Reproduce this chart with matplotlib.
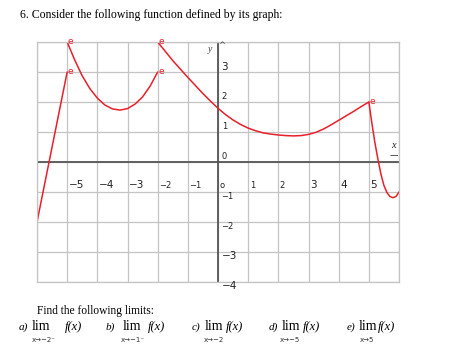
import matplotlib.pyplot as plt

# pieces of the graph
seg1_x = [-6.0, -5.0]
seg1_y = [-2.0, 3.0]

seg2_x = [-5.0, -4.75, -4.5, -4.25, -4.0, -3.75, -3.5, -3.25, -3.0, -2.75, -2.5, -2.25, -2.0]
seg2_y = [4.0, 3.40, 2.87, 2.45, 2.13, 1.90, 1.77, 1.73, 1.78, 1.93, 2.17, 2.53, 3.0]

seg3_x = [-2.0, -1.75, -1.5, -1.25, -1.0, -0.75, -0.5, -0.25, 0.0, 0.25, 0.5, 0.75,
          1.0, 1.25, 1.5, 1.75, 2.0, 2.25, 2.5, 2.75, 3.0, 3.25, 3.5, 3.75,
          4.0, 4.25, 4.5, 4.75, 5.0]
seg3_y = [4.0, 3.69, 3.38, 3.10, 2.82, 2.55, 2.28, 2.03, 1.79, 1.58, 1.40, 1.25,
          1.13, 1.04, 0.97, 0.93, 0.90, 0.88, 0.87, 0.88, 0.92, 0.99, 1.10, 1.24,
          1.39, 1.54, 1.69, 1.85, 2.0]

seg4_x = [5.0, 5.1, 5.2, 5.3, 5.4, 5.5, 5.6, 5.7, 5.8, 5.9, 6.0]
seg4_y = [2.0, 1.3, 0.65, 0.1, -0.4, -0.78, -1.02, -1.15, -1.19, -1.15, -1.0]

open_x = [-5, -5, -2, -2, 5]
open_y = [4, 3, 4, 3, 2]

xtick_vals = [-5, -4, -3, -2, -1, 0, 1, 2, 3, 4, 5]
xtick_labels = ["\u22125", "\u22124", "\u22123", "\u22122", "\u22121", "o", "1", "2", "3", "4", "5"]
ytick_vals = [3, 2, 1, 0, -1, -2, -3, -4]
ytick_labels = ["3", "2", "1", "0", "\u22121", "\u22122", "\u22123", "\u22124"]

limit_letters = ["a)", "b)", "c)", "d)", "e)"]
limit_subs = ["x\u2192\u22122\u207b", "x\u2192\u22121\u207b", "x\u2192\u22122", "x\u2192\u22125", "x\u21925"]

W, H = 474, 353
fig = plt.figure(figsize=(W / 100, H / 100), dpi=100)
fig.patch.set_facecolor("white")


def fx(px):
    return px / W


def fy(py):
    return 1 - py / H


ax = fig.add_axes([fx(37), fy(282), fx(399) - fx(37), fy(42) - fy(282)])
ax.set_xlim(-6, 6)
ax.set_ylim(-4, 4)
ax.set_xticks(range(-6, 7))
ax.set_yticks(range(-4, 5))
ax.grid(True, color="#c4c4c4", lw=0.9)
ax.tick_params(length=0, labelbottom=False, labelleft=False)
for s in ax.spines.values():
    s.set_color("#c4c4c4")
    s.set_linewidth(0.9)
ax.axhline(0, color="#555555", lw=1.3)
ax.axvline(0, color="#555555", lw=1.3)

red = "#e8202a"
for xs, ys in [(seg1_x, seg1_y), (seg2_x, seg2_y), (seg3_x, seg3_y), (seg4_x, seg4_y)]:
    ax.plot(xs, ys, color=red, lw=1.1, solid_capstyle="round", solid_joinstyle="round")
for x, y in zip(open_x, open_y):
    ax.text(x + 0.02, y, "e", color=red, fontsize=6.5, ha="left", va="center",
            family="DejaVu Sans")

# tick labels, placed like in the scan
for v, lab in zip(xtick_vals, xtick_labels):
    big = lab in ["\u22125", "\u22124", "\u22123", "3", "4", "5"]
    ax.text(v + 0.05, -0.77, lab, fontsize=7.5 if big else 6, ha="left", va="center",
            family="DejaVu Sans", color="#222222", clip_on=False)
for v, lab in zip(ytick_vals, ytick_labels):
    big = lab in ["3", "\u22123", "\u22124"]
    yy = v + 0.18 if v >= 0 else v - 0.14
    ax.text(0.12, yy, lab, fontsize=7.5 if big else 6, ha="left", va="center",
            family="DejaVu Sans", color="#222222", clip_on=False)

ax.text(-0.25, 3.75, "y", fontsize=7, style="italic", family="Liberation Serif",
        ha="center", va="center", color="#444444")
ax.text(0.13, 3.88, "^", fontsize=6, ha="center", va="center", color="#444444")
ax.text(5.83, 0.55, "x", fontsize=7.5, style="italic", family="Liberation Serif",
        ha="center", va="center", color="#222222")
ax.text(5.83, 0.2, "\u2014", fontsize=6, ha="center", va="center", color="#222222")

fig.text(fx(20), fy(15), "6. Consider the following function defined by its graph:",
         family="Liberation Serif", fontsize=8.5, ha="left", va="center")
fig.text(fx(37), fy(311), "Find the following limits:",
         family="Liberation Serif", fontsize=8.3, ha="left", va="center")

letter_px = [19, 106, 192, 269, 347]
lim_px = [32, 123, 205, 282, 359]
f_px = [65, 148, 226, 303, 378]
sub_px = [44, 133, 214, 290, 367]
for i in range(5):
    fig.text(fx(letter_px[i]), fy(327), limit_letters[i], family="Liberation Serif",
             style="italic", fontsize=8, ha="left", va="center")
    fig.text(fx(lim_px[i]), fy(326), "lim", family="Liberation Serif",
             fontsize=10, ha="left", va="center")
    fig.text(fx(f_px[i]), fy(327), "f(x)", family="Liberation Serif",
             style="italic", fontsize=9, ha="left", va="center")
    fig.text(fx(sub_px[i]), fy(340), limit_subs[i], family="DejaVu Sans",
             fontsize=5, ha="center", va="center", color="#333333")

fig.savefig("out.png", dpi=100)
